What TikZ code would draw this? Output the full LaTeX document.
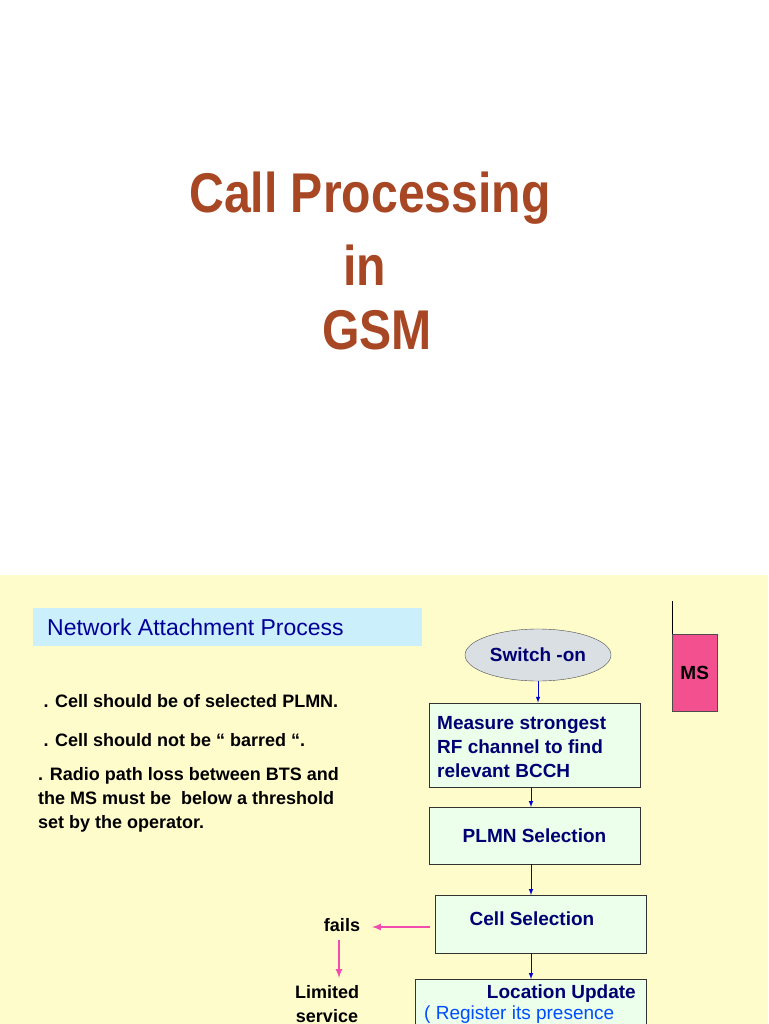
\documentclass[tikz,border=0pt]{standalone}
\usepackage{fontspec}
\setmainfont{Liberation Sans}
\usetikzlibrary{shapes.geometric}
\begin{document}
\begin{tikzpicture}[x=1pt,y=-1pt,
  fbox/.style={draw=black!80,fill=green!8,line width=0.8pt},
  blarr/.style={draw=blue!80!black,line width=1pt,-latex},
  pkarr/.style={draw=magenta!70,line width=2pt,-latex},
  ftxt/.style={text=blue!45!black,font=\bfseries\fontsize{19}{24}\selectfont,align=left},
  btxt/.style={font=\bfseries\fontsize{18}{24}\selectfont,align=left,anchor=west}]
\useasboundingbox (0,0) rectangle (768,1024);
\fill[white] (0,0) rectangle (768,575);
\fill[yellow!20] (0,575) rectangle (768,1024);
\clip (0,0) rectangle (768,1024);
% title
\begin{scope}[every node/.style={text=brown!70!red!80!black,font=\bfseries\fontsize{56}{56}\selectfont,xscale=0.86,transform shape}]
\node (t1) at (370,198) {Call Processing};
\node (t2) at (365,265) {in};
\node (t3) at (377,330) {GSM};
\end{scope}
% header
\node[fill=cyan!20,minimum width=389pt,minimum height=38pt,anchor=north west,inner sep=0pt] (hd) at (33,608) {};
\node[text=blue!60!black,font=\fontsize{23}{26}\selectfont,anchor=west,inner sep=0pt] (hdt) at (47,627) {Network Attachment Process};
\node[btxt] (b1) at (40,701) {. Cell should be of selected PLMN.};
\node[btxt] (b2) at (40,740) {. Cell should not be “ barred “.};
\node[btxt,anchor=north west,inner sep=0pt] (b3) at (38,767) {. Radio path loss between BTS and\\the MS must be \ below a threshold\\set by the operator.};
% flow
\node[draw=black!70,fill=cyan!15!gray!30,ellipse,minimum width=146pt,minimum height=52pt,inner sep=0pt,ftxt] (sw) at (538,655) {Switch -on};
\node[fbox,minimum width=211pt,minimum height=84pt,inner sep=0pt] (m) at (534.5,745) {};
\node[ftxt,anchor=north west,inner sep=0pt] (mt) at (437,716) {Measure strongest\\RF channel to find\\relevant BCCH};
\node[fbox,minimum width=211pt,minimum height=57pt,inner sep=0pt,ftxt] (p) at (534.5,835.5) {PLMN Selection};
\node[fbox,minimum width=211pt,minimum height=58pt,inner sep=0pt] (c) at (540.5,924) {};
\node[ftxt] (ct) at (532,919) {Cell Selection};
\node[fbox,minimum width=231pt,minimum height=80pt,inner sep=0pt,anchor=north west] (l) at (415,979) {};
\node[ftxt,anchor=east,inner sep=0pt] (lt) at (636,994) {Location Update};
\node[text=blue!70!cyan,font=\fontsize{19}{22}\selectfont,anchor=west,inner sep=0pt] (lt2) at (424,1015) {( Register its presence};
\draw[blarr] (sw.south) -- (sw.south |- m.north);
\draw[blarr] (531,787) -- (531,807);
\draw[blarr] (531,864) -- (531,895);
\draw[blarr] (531,953) -- (531,979);
% MS
\node[draw=black!70,fill=magenta!70!red!70,minimum width=45pt,minimum height=77pt,inner sep=0pt,anchor=north west,font=\bfseries\fontsize{19}{22}\selectfont] (ms) at (672,634) {MS};
\coordinate (ant) at (672,601);
\draw[black] (ms.north west) -- (ant);
% fails
\node[font=\bfseries\fontsize{18}{22}\selectfont,inner sep=0pt] (fl) at (342,925) {fails};
\coordinate (fa) at (430,927);
\draw[pkarr] (fa) -- (372,927);
\node[font=\bfseries\fontsize{18}{24}\selectfont,align=center,anchor=north,inner sep=0pt] (ls) at (327,985) {Limited\\service};
\coordinate (fd) at (339,940);
\draw[pkarr] (fd) -- (339,978);
\end{tikzpicture}
\end{document}
